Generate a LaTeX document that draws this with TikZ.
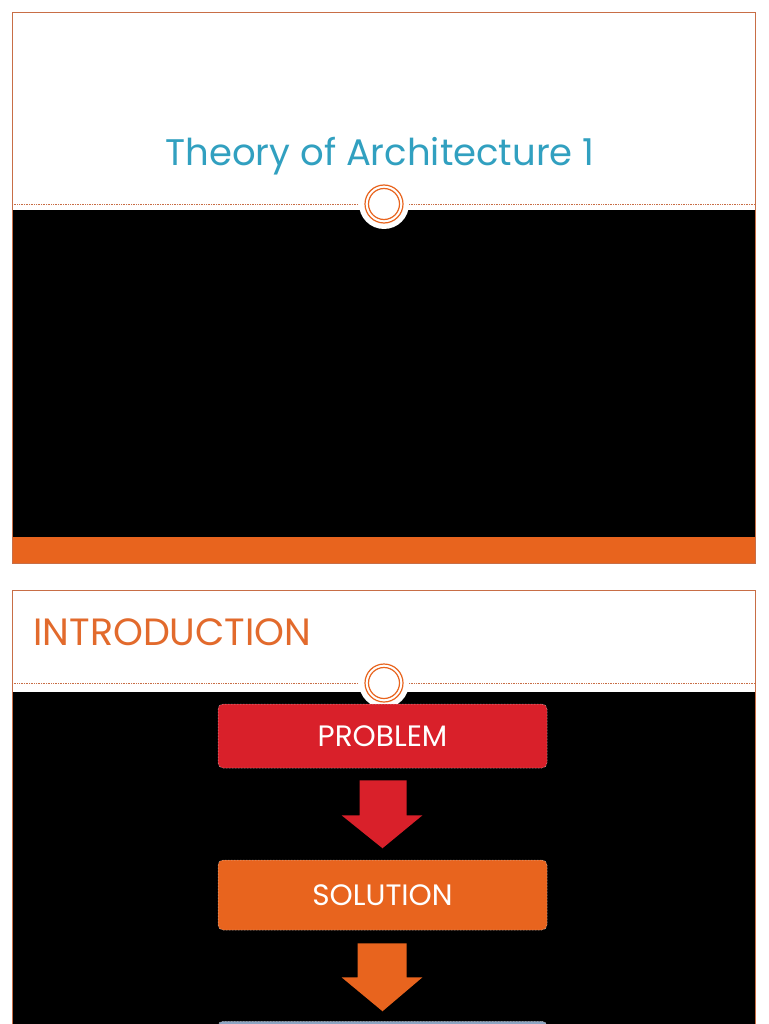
\documentclass[tikz,border=0pt]{standalone}
\usepackage{fontspec}
\setmainfont{Poppins}
\usetikzlibrary{calc}
\definecolor{frame}{RGB}{200,110,70}
\definecolor{band}{RGB}{232,100,30}
\definecolor{teal}{RGB}{49,160,192}
\definecolor{introor}{RGB}{226,106,44}
\definecolor{probred}{RGB}{217,32,42}
\definecolor{solor}{RGB}{232,100,30}
\definecolor{nextblue}{RGB}{140,165,195}
\tikzset{
  slideframe/.style={draw=frame, line width=0.9pt},
  sepline/.style={draw=frame, densely dotted, line width=0.7pt},
  halo/.style={circle, fill=white, minimum size=50pt, inner sep=0pt},
  ringouter/.style={draw=band, line width=1.2pt},
  stepbox/.style={rounded corners=5pt, draw=white!85!black, densely dotted, line width=0.5pt,
    minimum width=329pt, minimum height=64pt, inner sep=0pt, text=white,
    font=\fontsize{29.5}{31}\selectfont},
}
\begin{document}
\begin{tikzpicture}[x=1pt,y=-1pt]
\useasboundingbox (0,0) rectangle (768,1024);
\fill[white] (0,0) rectangle (768,1024);
% ---------- slide 1 ----------
\fill[black] (12,210) rectangle (755,537);
\fill[band] (12,537) rectangle (755,563);
\draw[slideframe] (12,12) rectangle (755,563);
\node[text=teal, font=\fontsize{37}{39}\selectfont, anchor=base] (title) at (380,166) {Theory of Architecture 1};
\draw[sepline] (12,204) -- (360,204);
\draw[sepline] (409,204) -- (755,204);
\node[halo] (halo1) at (384,204) {};
\draw[ringouter] (halo1.center) circle (19);
\draw[ringouter] (halo1.center) circle (15.5);
% ---------- slide 2 ----------
\fill[black] (12,692) rectangle (755,1024);
\draw[slideframe] (12,1030) -- (12,590) -- (755,590) -- (755,1030);
\node[text=introor, font=\fontsize{38}{40}\selectfont, anchor=base west] (intro) at (30,645) {INTRODUCTION};
\draw[sepline] (12,683) -- (360,683);
\draw[sepline] (409,683) -- (755,683);
\node[halo] (halo2) at (384,683) {};
\draw[ringouter] (halo2.center) circle (19);
\draw[ringouter] (halo2.center) circle (15.5);
% boxes
\node[stepbox, fill=probred, minimum height=64pt] (problem) at (382.5,736) {PROBLEM};
\node[stepbox, fill=solor, minimum height=70pt] (solution) at (382.5,895) {SOLUTION};
\begin{scope}
\clip (0,0) rectangle (768,1024);
\node[stepbox, fill=nextblue, minimum height=70pt, anchor=north] (next) at (382.5,1021) {};
\end{scope}
% block arrows
\fill[probred] ($(problem.south)+(-23,12)$) -- ($(problem.south)+(24,12)$) -- ($(problem.south)+(24,47)$)
  -- ($(problem.south)+(40,47)$) -- ($(problem.south)+(0,80)$) -- ($(problem.south)+(-41,47)$)
  -- ($(problem.south)+(-23,47)$) -- cycle;
\fill[solor] ($(solution.south)+(-25,13)$) -- ($(solution.south)+(24,13)$) -- ($(solution.south)+(24,47)$)
  -- ($(solution.south)+(40,47)$) -- ($(solution.south)+(0,81)$) -- ($(solution.south)+(-41,47)$)
  -- ($(solution.south)+(-25,47)$) -- cycle;
\end{tikzpicture}
\end{document}
